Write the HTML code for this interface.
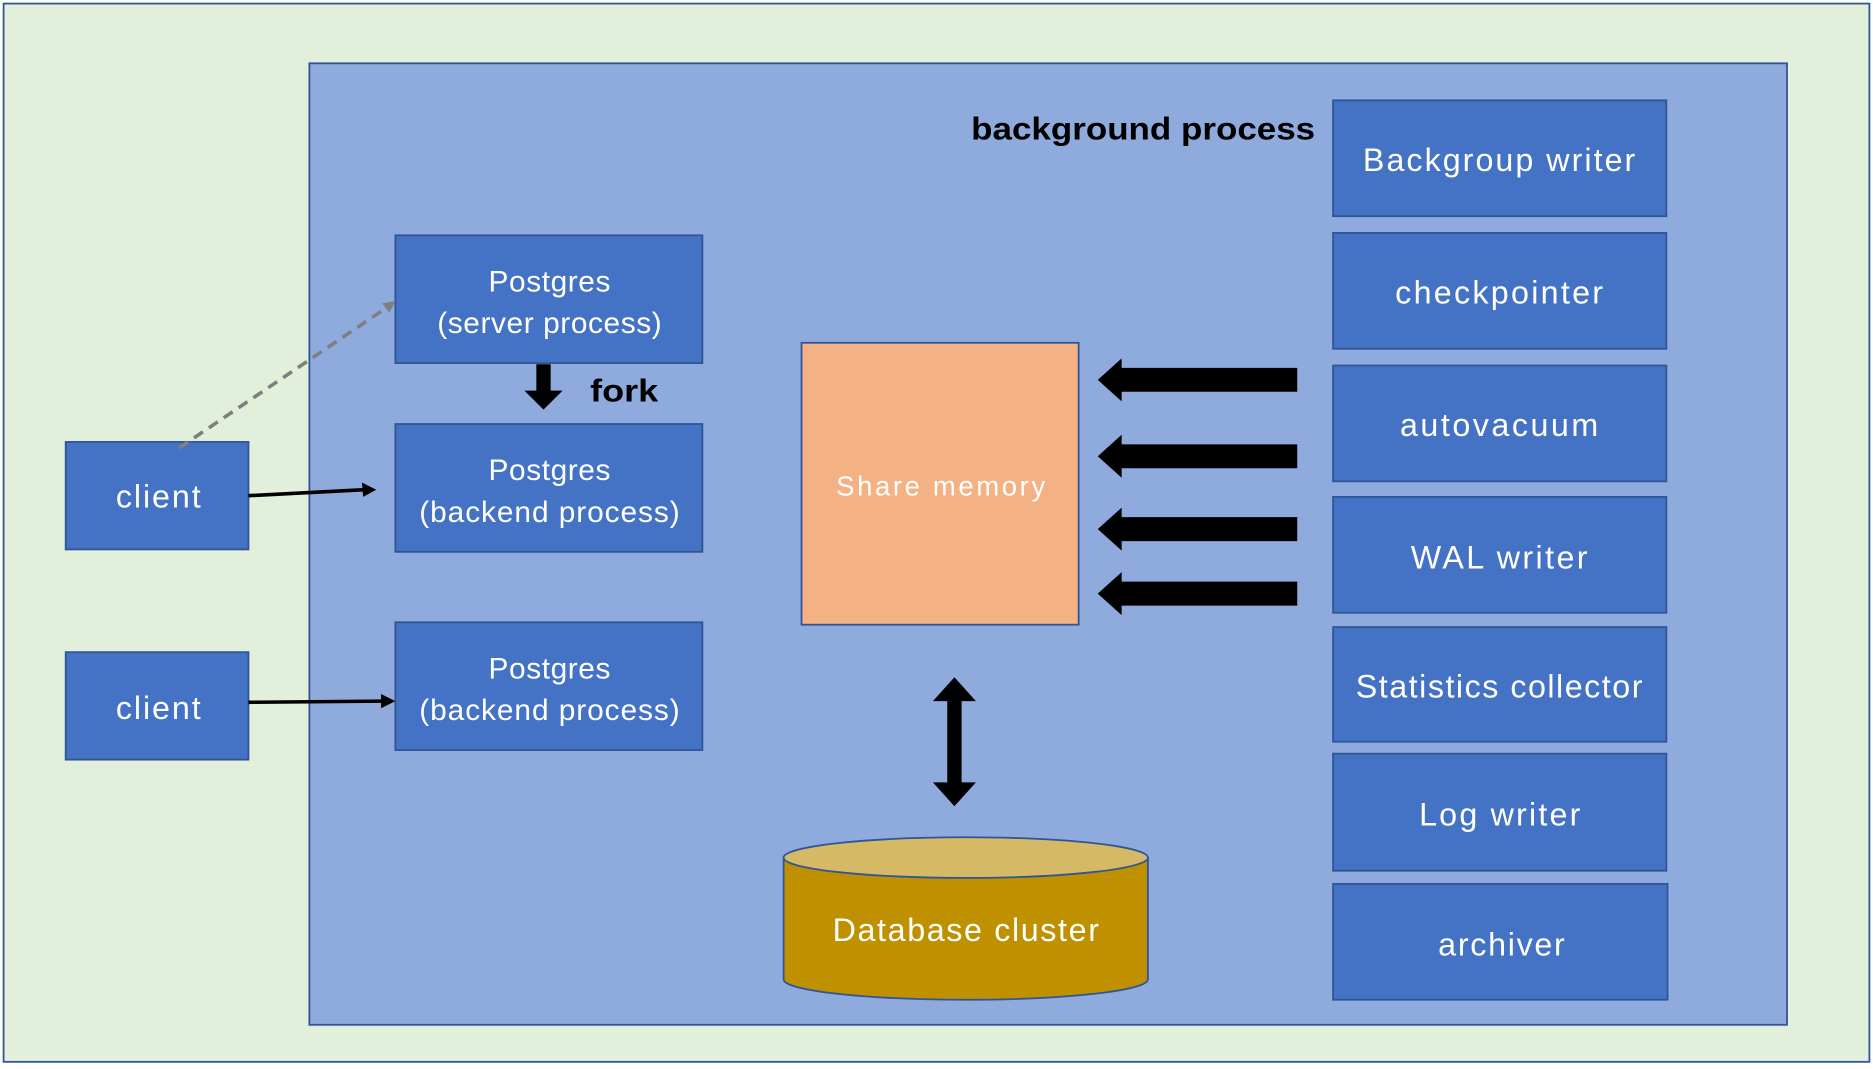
<!DOCTYPE html>
<html><head><style>html,body{margin:0;padding:0;background:#fff}svg{display:block}</style></head>
<body>
<svg width="1873" height="1069" viewBox="0 0 1568 895" preserveAspectRatio="none" xmlns="http://www.w3.org/2000/svg" font-family="Liberation Sans, sans-serif">
<rect x="3" y="3" width="1562" height="886" fill="#e2efda" stroke="#2f5597" stroke-width="1.5"/>
<rect x="259" y="53" width="1237" height="805" fill="#8faadc" stroke="#2f5597" stroke-width="1.5"/>
<g fill="#4472c4" stroke="#2f5597" stroke-width="1.5">
<rect x="331" y="197" width="257" height="107"/>
<rect x="331" y="355" width="257" height="107"/>
<rect x="331" y="521" width="257" height="107"/>
<rect x="55" y="370" width="153" height="90"/>
<rect x="55" y="546" width="153" height="90"/>
<rect x="1116" y="84" width="279" height="97"/>
<rect x="1116" y="195" width="279" height="97"/>
<rect x="1116" y="306" width="279" height="97"/>
<rect x="1116" y="416" width="279" height="97"/>
<rect x="1116" y="525" width="279" height="96"/>
<rect x="1116" y="631" width="279" height="98"/>
<rect x="1116" y="740" width="280" height="97"/>
</g>
<rect x="671" y="287" width="232" height="236" fill="#f4b183" stroke="#2f5597" stroke-width="1.5"/>
<g fill="#000">
<polygon points="919,318 939,300 939,308 1086,308 1086,328 939,328 939,336"/>
<polygon points="919,382 939,364 939,372 1086,372 1086,392 939,392 939,400"/>
<polygon points="919,443 939,425 939,433 1086,433 1086,453 939,453 939,461"/>
<polygon points="919,497 939,479 939,487 1086,487 1086,507 939,507 939,515"/>
<polygon points="449,305 461,305 461,327 471,327 455,343 439,327 449,327"/>
<polygon points="799,567 817,587 805,587 805,655 817,655 799,675 781,655 793,655 793,587 781,587"/>
</g>
<line x1="150" y1="375" x2="326" y2="256" stroke="#7f7f7f" stroke-width="3" stroke-dasharray="9,6"/>
<polygon points="331,252 320,254 326,262" fill="#7f7f7f"/>
<line x1="208" y1="415" x2="305" y2="410" stroke="#000" stroke-width="3"/>
<polygon points="315,410 303,404 304,416" fill="#000"/>
<line x1="208" y1="588" x2="321" y2="587" stroke="#000" stroke-width="3"/>
<polygon points="331,587 319,581 319,593" fill="#000"/>
<path d="M656,718 L656,820 A152.5,17 0 0 0 961,820 L961,718 Z" fill="#bf9000" stroke="#2f5597" stroke-width="1.5"/>
<ellipse cx="808.5" cy="718" rx="152.5" ry="17" fill="#d6b964" stroke="#2f5597" stroke-width="1.5"/>
<g fill="#fff" font-size="25" lengthAdjust="spacingAndGlyphs">
<text x="409" y="244" textLength="102">Postgres</text><text x="366" y="279" textLength="188">(server process)</text>
<text x="409" y="402" textLength="102">Postgres</text><text x="351" y="437" textLength="218">(backend process)</text>
<text x="409" y="568" textLength="102">Postgres</text><text x="351" y="603" textLength="218">(backend process)</text>
<text x="97" y="425" font-size="27" textLength="71">client</text>
<text x="97" y="602" font-size="27" textLength="71">client</text>
<text x="700" y="415" font-size="23" textLength="175">Share memory</text>
<text x="697" y="788" font-size="27" textLength="223">Database cluster</text>
<g font-size="27">
<text x="1141" y="143" textLength="228">Backgroup writer</text>
<text x="1168" y="254" textLength="174">checkpointer</text>
<text x="1172" y="365" textLength="166">autovacuum</text>
<text x="1181" y="476" textLength="148">WAL writer</text>
<text x="1135" y="584" textLength="240">Statistics collector</text>
<text x="1188" y="691" textLength="135">Log writer</text>
<text x="1204" y="800" textLength="106">archiver</text>
</g>
</g>
<text x="813" y="117" font-size="26" font-weight="bold" fill="#000" textLength="288" lengthAdjust="spacingAndGlyphs">background process</text>
<text x="494" y="336" font-size="26" font-weight="bold" fill="#000" textLength="57" lengthAdjust="spacingAndGlyphs">fork</text>
</svg>
</body></html>
